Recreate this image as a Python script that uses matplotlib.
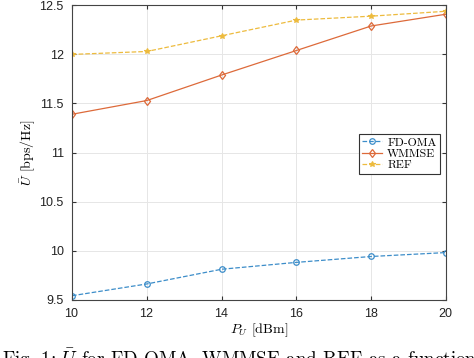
import matplotlib
matplotlib.use("Agg")
import matplotlib.pyplot as plt

# === Data ===
p_u = [10, 12, 14, 16, 18, 20]
fd_oma = [9.54, 9.66, 9.81, 9.88, 9.94, 9.98]
wmmse = [11.39, 11.53, 11.79, 12.04, 12.29, 12.41]
ref = [12.00, 12.03, 12.19, 12.35, 12.39, 12.44]

x_ticks = [10, 12, 14, 16, 18, 20]
y_ticks = [9.5, 10, 10.5, 11, 11.5, 12, 12.5]
y_ticklabels = ["9.5", "10", "10.5", "11", "11.5", "12", "12.5"]

plt.rcParams['mathtext.fontset'] = 'cm'
plt.rcParams['font.family'] = ['Liberation Sans', 'DejaVu Sans']
plt.rcParams['axes.formatter.use_mathtext'] = True
serif = ['cmr10', 'DejaVu Serif']

fig = plt.figure(figsize=(4.74, 3.58), dpi=100)
ax = fig.add_axes([0.152, 0.163, 0.789, 0.822])

ax.plot(p_u, fd_oma, '--o', color='#3C8DC9', lw=0.9, ms=4, mfc='none', mew=0.9, label='FD-OMA')
ax.plot(p_u, wmmse, '-d', color='#DD6A3A', lw=0.9, ms=4.5, mfc='none', mew=0.9, label='WMMSE')
ax.plot(p_u, ref, '--*', color='#EDBB3E', lw=0.9, ms=4, mew=0.8, label='REF')

ax.set_xlim(10, 20)
ax.set_ylim(9.5, 12.5)
ax.set_xticks(x_ticks)
ax.set_yticks(y_ticks)
ax.set_yticklabels(y_ticklabels)
ax.grid(True, color='#e6e6e6', lw=0.7)
ax.set_axisbelow(True)
ax.tick_params(direction='in', top=True, right=True, labelsize=9, length=3,
               color='#333333', labelcolor='#222222')
ax.tick_params(axis='x', pad=5)
ax.tick_params(axis='y', pad=6)
for s in ax.spines.values():
    s.set_color('#444444')
    s.set_linewidth(0.8)

ax.set_xlabel(r'$P_U$ [dBm]', fontsize=10, family=serif, labelpad=1)
ax.set_ylabel(r'$\bar{U}$ [bps/Hz]', fontsize=10, family=serif, labelpad=2)

leg = ax.legend(loc='lower right', bbox_to_anchor=(0.984, 0.427),
                prop={'family': serif, 'size': 8.5}, fancybox=False, framealpha=1,
                edgecolor='#333333', borderpad=0.3, labelspacing=0.1,
                handlelength=1.7, handletextpad=0.4, borderaxespad=0)
leg.get_frame().set_linewidth(0.8)

fig.text(0.005, 0.032, r'Fig. 1: $\bar{U}$ for FD-OMA, WMMSE and REF as a function',
         fontsize=13.7, family=serif, va='top', ha='left')

fig.savefig("out.png", dpi=100)
